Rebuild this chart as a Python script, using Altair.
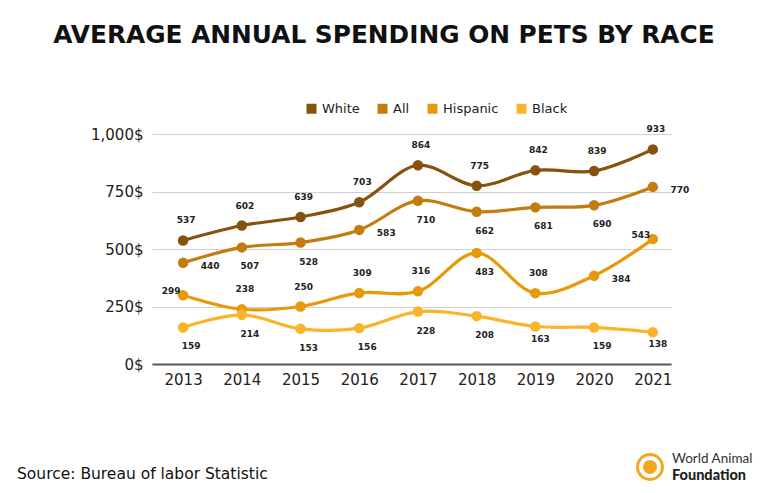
import altair as alt
import pandas as pd

years = [2013, 2014, 2015, 2016, 2017, 2018, 2019, 2020, 2021]
series = ["White", "All", "Hispanic", "Black"]
white = [537, 602, 639, 703, 864, 775, 842, 839, 933]
all_ = [440, 507, 528, 583, 710, 662, 681, 690, 770]
hispanic = [299, 238, 250, 309, 316, 483, 308, 384, 543]
black = [159, 214, 153, 156, 228, 208, 163, 159, 138]
colors = ["#87520E", "#C27D0E", "#E8990A", "#F9B429"]

# label placement codes (style): a=above, b=below, r=right, l=left, n=below near
pos_white = ["a"] * 9
pos_all = ["r", "b", "b", "r", "b", "b", "b", "b", "r"]
pos_hisp = ["l", "a", "a", "a", "a", "b", "a", "r", "l"]
pos_black = ["b", "b", "b", "b", "b", "b", "n", "b", "n"]
offsets = {"a": (3, -20), "b": (8, 19), "r": (27, 3), "l": (-12, -4), "n": (5, 12)}

rows = []
for name, vals, poss in zip(series, [white, all_, hispanic, black],
                            [pos_white, pos_all, pos_hisp, pos_black]):
    for y, v, p in zip(years, vals, poss):
        rows.append({"year": y, "series": name, "value": v, "pos": p})
df = pd.DataFrame(rows)

FONT = "DejaVu Sans"

x = alt.X("year:Q", scale=alt.Scale(domain=[2012.47, 2021.31], nice=False, zero=False),
          axis=alt.Axis(values=years, format="d", title=None, grid=False, ticks=False,
                        domainColor="#555555", domainWidth=2, labelFontSize=15,
                        labelFont=FONT, labelColor="#222222", labelPadding=8,
                        labelFontWeight=500))
y = alt.Y("value:Q", scale=alt.Scale(domain=[0, 1000], nice=False),
          axis=alt.Axis(values=[0, 250, 500, 750, 1000], title=None, domain=False,
                        ticks=False, gridColor="#d0d0d0", gridWidth=1.2,
                        labelExpr="format(datum.value, ',') + '$'",
                        labelFontSize=15, labelFont=FONT, labelColor="#222222",
                        labelPadding=9, labelFontWeight=500))
color = alt.Color("series:N", scale=alt.Scale(domain=series, range=colors),
                  legend=alt.Legend(title=None, orient="none", legendX=153, legendY=-32,
                                    direction="horizontal", symbolType="square",
                                    symbolSize=100, symbolStrokeWidth=0,
                                    labelFontSize=13, labelFont=FONT,
                                    labelColor="#222222", columnPadding=16,
                                    labelOffset=4))

base = alt.Chart(df)
lines = base.mark_line(interpolate="catmull-rom", strokeWidth=3.2).encode(
    x=x, y=y, color=color, detail="series:N")
pts = base.mark_circle(size=110, opacity=1).encode(
    x=x, y=y,
    color=alt.Color("series:N", scale=alt.Scale(domain=series, range=colors), legend=None))

labels = []
for code, (dx, dy) in offsets.items():
    labels.append(base.transform_filter(alt.datum.pos == code).mark_text(
        dx=dx, dy=dy, fontSize=9, font=FONT, fontWeight=600, color="#222222"
    ).encode(x=x, y=y, text="value:Q"))

one = pd.DataFrame({"t": [0]})
title = alt.Chart(one).mark_text(text="AVERAGE ANNUAL SPENDING ON PETS BY RACE",
                                 fontSize=24.8, font=FONT, fontWeight=800, color="#111111",
                                 align="center", baseline="middle").encode(
    x=alt.value(232), y=alt.value(-98))
source = alt.Chart(one).mark_text(text="Source: Bureau of labor Statistic",
                                  fontSize=15.5, font=FONT, fontWeight=500, color="#111111",
                                  align="left", baseline="middle").encode(
    x=alt.value(-135), y=alt.value(340))
logo1 = alt.Chart(one).mark_text(text="World Animal", fontSize=13.5, font="Lato",
                                 color="#333333", align="left", baseline="middle").encode(
    x=alt.value(520), y=alt.value(325))
logo2 = alt.Chart(one).mark_text(text="Foundation", fontSize=14.5, font="Lato", fontWeight=900,
                                 color="#222222", align="left", baseline="middle").encode(
    x=alt.value(520), y=alt.value(342))
ring = alt.Chart(one).mark_point(shape="circle", size=620, filled=False, strokeWidth=3,
                                 color="#F5A623", opacity=1).encode(
    x=alt.value(498), y=alt.value(333))
blob = alt.Chart(one).mark_point(shape="circle", size=200, filled=True,
                                 color="#F5A623", opacity=1).encode(
    x=alt.value(498), y=alt.value(333))

chart = alt.layer(lines, pts, *labels, title, source, logo1, logo2, ring, blob).properties(
    width=519, height=230,
    padding={"left": 144, "top": 126, "right": 89, "bottom": 121},
    autosize=alt.AutoSizeParams(type="none"),
    background="white",
).configure_view(stroke=None)

chart.save("out.html", embed_options={"renderer": "svg", "actions": False})
